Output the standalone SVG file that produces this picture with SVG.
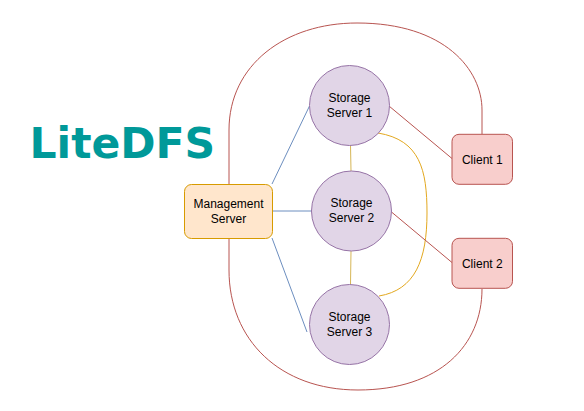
<svg xmlns="http://www.w3.org/2000/svg" width="584" height="411" viewBox="0 0 584 411">
<style>
.t{font-family:"Liberation Sans",Arial,Helvetica,sans-serif;font-size:12px;fill:#000;text-anchor:middle}
.ss{fill:#e1d5e7;stroke:#9673a6;stroke-width:1}
.cl{fill:#f8cecc;stroke:#b85450;stroke-width:1}
.mg{fill:#ffe6cc;stroke:#d79b00;stroke-width:1}
.eb{stroke:#6c8ebf;fill:none;stroke-width:1}
.ey{stroke:#d6b656;fill:none;stroke-width:1}
.ey2{stroke:#e3a81f;fill:none;stroke-width:1}
.er{stroke:#b85450;fill:none;stroke-width:1}
</style>
<rect width="584" height="411" fill="#fff"/>
<g id="connectors">
<path class="er" d="M 482 134 L 482 110 C 482 70 445 23 357 23 C 285 23 229 65 229 130 L 229 184"/>
<path class="er" d="M 229 239 L 229 270 C 229 340 280 390 358 390 C 440 390 482 345 482 289"/>
<line class="eb" x1="272" y1="184" x2="309.5" y2="106"/>
<line class="eb" x1="272" y1="211" x2="311.5" y2="211"/>
<line class="eb" x1="272" y1="238" x2="307" y2="332"/>
<line class="ey" x1="350.5" y1="145.5" x2="351" y2="171"/>
<line class="ey" x1="351" y1="251" x2="350.5" y2="284.5"/>
<path class="ey2" d="M 378 133 C 420 140 427 170 427 213 C 427 260 415 290 379 296"/>
<line class="er" x1="389" y1="106" x2="452" y2="158.5"/>
<line class="er" x1="391.5" y1="212" x2="452" y2="262.5"/>
</g>
<g id="title">
<text x="29.5" y="158" style="font-family:'DejaVu Sans',Verdana,sans-serif;font-weight:bold;font-size:42.5px;fill:#009999">LiteDFS</text>
</g>
<g id="mgmt">
<rect class="mg" x="184.5" y="184.5" width="88" height="54" rx="7"/>
<text class="t" x="228.5" y="207.5">Management</text>
<text class="t" x="228.5" y="222.5">Server</text>
</g>
<g id="ss1">
<circle class="ss" cx="349.5" cy="105.5" r="40"/>
<text class="t" x="349.5" y="101.7">Storage</text>
<text class="t" x="349.5" y="116.7">Server 1</text>
</g>
<g id="ss2">
<circle class="ss" cx="351.5" cy="211" r="40"/>
<text class="t" x="351.5" y="207.2">Storage</text>
<text class="t" x="351.5" y="222.2">Server 2</text>
</g>
<g id="ss3">
<circle class="ss" cx="349.5" cy="324.5" r="40"/>
<text class="t" x="349.5" y="320.7">Storage</text>
<text class="t" x="349.5" y="335.7">Server 3</text>
</g>
<g id="client1">
<rect class="cl" x="452" y="134.3" width="60.5" height="50" rx="7"/>
<text class="t" x="482.3" y="163.5">Client 1</text>
</g>
<g id="client2">
<rect class="cl" x="452" y="238.3" width="60.5" height="50" rx="7"/>
<text class="t" x="482.3" y="267.5">Client 2</text>
</g>
</svg>
